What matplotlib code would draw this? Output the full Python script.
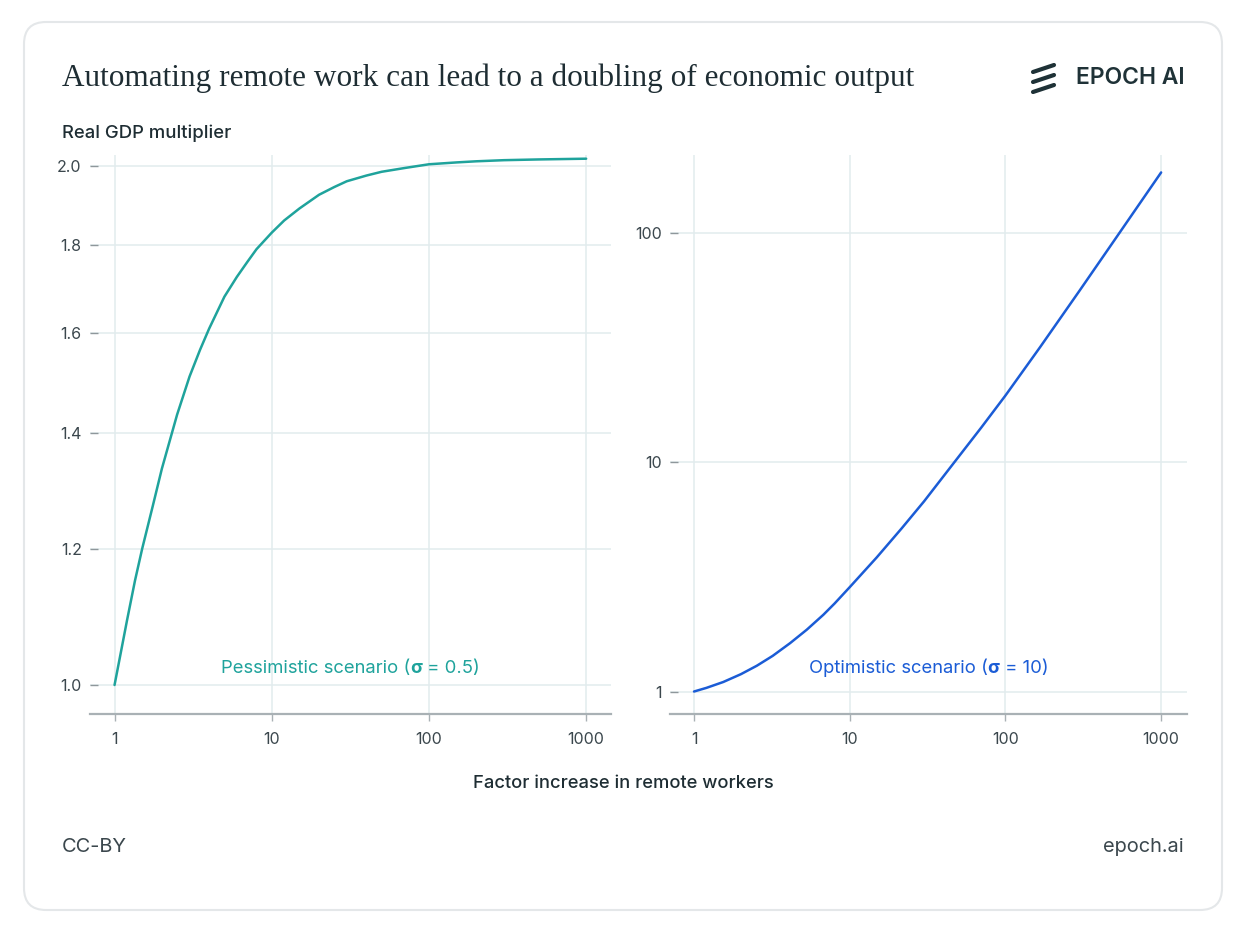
import matplotlib
matplotlib.use("Agg")
import matplotlib.pyplot as plt
from matplotlib.patches import FancyBboxPatch
from matplotlib.lines import Line2D
from matplotlib.transforms import IdentityTransform
from matplotlib.ticker import FixedLocator, NullLocator

plt.rcParams['font.family'] = ['Inter', 'DejaVu Sans']

# values
workers_pess = [1, 1.1, 1.2, 1.35, 1.5, 1.75, 2, 2.5, 3, 3.5, 4, 5, 6, 7, 8, 10, 12, 15, 20,
                25, 30, 40, 50, 70, 100, 150, 200, 300, 500, 1000]
gdp_pess = [1.0, 1.046, 1.09, 1.15, 1.20, 1.27, 1.335, 1.435, 1.51, 1.565, 1.61, 1.68, 1.725,
            1.76, 1.79, 1.83, 1.86, 1.89, 1.925, 1.945, 1.96, 1.975, 1.985, 1.995, 2.005,
            2.01, 2.013, 2.016, 2.018, 2.02]

workers_opt = [1, 1.2, 1.54, 2, 2.53, 3.2, 4.14, 5.3, 6.77, 8, 10, 14.9, 21.6, 30, 46.8, 70,
               100, 167, 300, 500, 1000]
gdp_opt = [1.0, 1.037, 1.10, 1.19, 1.295, 1.43, 1.625, 1.86, 2.16, 2.42, 2.85, 3.84, 5.15,
           6.74, 9.95, 14.15, 19.5, 31.7, 56, 92.5, 183]

x_ticks = [1, 10, 100, 1000]
x_ticklabels = ["1", "10", "100", "1000"]
y_ticks_pess = [1.0, 1.2, 1.4, 1.6, 1.8, 2.0]
y_ticklabels_pess = ["1.0", "1.2", "1.4", "1.6", "1.8", "2.0"]
y_ticks_opt = [1, 10, 100]
y_ticklabels_opt = ["1", "10", "100"]

TEAL = "#1FA39C"
BLUE = "#1B5CD6"
DARK = "#1E2D33"
GREY = "#3B474D"
GRID = "#E2ECEE"
BASE = "#A9B1B5"

W, H = 1246, 938
fig = plt.figure(figsize=(W / 100, H / 100), dpi=100)
fig.patch.set_facecolor("white")

# card
card = FancyBboxPatch((24, 28), 1198, 888, boxstyle="round,pad=0,rounding_size=22",
                      transform=IdentityTransform(), facecolor="none",
                      edgecolor="#E4E7E9", linewidth=1.5, zorder=-10)
fig.patches.append(card)


def px(x, y):
    return x / W, 1 - y / H


ax1 = fig.add_axes([90 / W, 1 - 714 / H, 521 / W, 559 / H])
ax2 = fig.add_axes([670 / W, 1 - 714 / H, 517 / W, 559 / H])


def style(ax, yticks, ylabels):
    ax.set_xscale("log")
    ax.set_yscale("log")
    ax.xaxis.set_major_locator(FixedLocator(x_ticks))
    ax.xaxis.set_minor_locator(NullLocator())
    ax.set_xticklabels(x_ticklabels)
    ax.yaxis.set_major_locator(FixedLocator(yticks))
    ax.yaxis.set_minor_locator(NullLocator())
    ax.set_yticklabels(ylabels)
    for s in ["top", "right", "left"]:
        ax.spines[s].set_visible(False)
    ax.spines["bottom"].set_color(BASE)
    ax.spines["bottom"].set_linewidth(1.6)
    ax.grid(True, color=GRID, linewidth=1.1)
    ax.set_axisbelow(True)
    ax.tick_params(axis="x", direction="out", length=5, width=1, color=BASE,
                   labelsize=11.5, labelcolor=GREY, pad=8)
    ax.tick_params(axis="y", direction="in", length=6, width=1, color="#8E979B",
                   labelsize=11.5, labelcolor=GREY, pad=6)
    ax.set_facecolor("none")


style(ax1, y_ticks_pess, y_ticklabels_pess)
style(ax2, y_ticks_opt, y_ticklabels_opt)

ax1.plot(workers_pess, gdp_pess, color=TEAL, linewidth=1.8, solid_capstyle="round",
         solid_joinstyle="round")
ax2.plot(workers_opt, gdp_opt, color=BLUE, linewidth=1.8, solid_capstyle="round",
         solid_joinstyle="round")

ax1.set_xlim(0.698, 1439)
ax1.set_ylim(0.962, 2.03)
ax2.set_xlim(0.701, 1466)
ax2.set_ylim(0.798, 218)

renderer = fig.canvas.get_renderer()


def sigma_label(ax, pre, post, color, yfrac=0.082):
    parts = [(pre, "normal"), ("σ", "bold"), (post, "normal")]
    texts = [ax.text(0, yfrac, s, transform=ax.transAxes, fontsize=13.3, fontweight=w,
                     color=color, ha="left", va="center") for s, w in parts]
    widths = [t.get_window_extent(renderer).width for t in texts]
    bbox = ax.get_window_extent(renderer)
    x = bbox.x0 + bbox.width * 0.5 - sum(widths) / 2
    for t, w in zip(texts, widths):
        t.set_x((x - bbox.x0) / bbox.width)
        x += w


sigma_label(ax1, "Pessimistic scenario (", " = 0.5)", TEAL)
sigma_label(ax2, "Optimistic scenario (", " = 10)", BLUE)

# texts
fig.text(*px(62, 78), "Automating remote work can lead to a doubling of economic output",
         family="Liberation Serif", fontsize=22.5, color=DARK, ha="left", va="center")
fig.text(*px(62, 133), "Real GDP multiplier", fontsize=13.3, fontweight="medium",
         color=DARK, ha="left", va="center")
fig.text(*px(623, 784), "Factor increase in remote workers", fontsize=13.2,
         fontweight="medium", color=DARK, ha="center", va="center")
fig.text(*px(62, 847), "CC-BY", fontsize=14.4, color=GREY, ha="left", va="center")
fig.text(*px(1184, 847), "epoch.ai", fontsize=14.4, color=GREY, ha="right", va="center")

# logo
for k in range(3):
    x0, y0 = px(1033, 72 + 10 * k)
    x1, y1 = px(1054, 65 + 10 * k)
    fig.add_artist(Line2D([x0, x1], [y0, y1], color="#1F3237", linewidth=3.0,
                          solid_capstyle="round", transform=fig.transFigure))
fig.text(*px(1185, 78), "EPOCH AI", fontsize=16.5, fontweight="semibold",
         color="#1F3237", ha="right", va="center")

fig.savefig("out.png", dpi=100, facecolor="white")
